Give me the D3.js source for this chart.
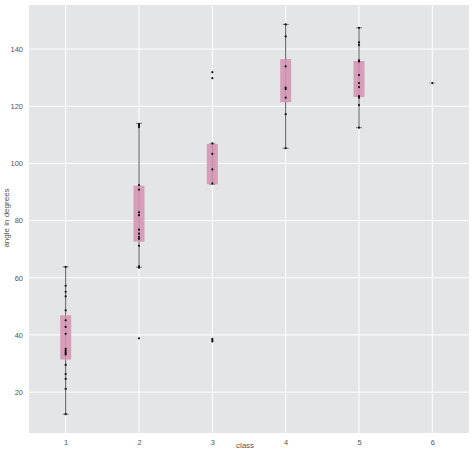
<!DOCTYPE html>
<html><head><meta charset="utf-8">
<script src="https://cdn.jsdelivr.net/npm/d3@7.9.0/dist/d3.min.js"></script>
<style>body{margin:0;background:#fff}text{font-family:"Liberation Sans",Arial,sans-serif}</style>
</head><body><svg width="474" height="454"></svg>
<script>
const classes = [1, 2, 3, 4, 5, 6];
const points = [
  [63.8, 57.2, 55.1, 53.5, 48.6, 45.1, 42.8, 40.4, 35.1, 34.4, 33.7, 33.2, 29.5, 26.3, 24.6, 21.1, 12.3],
  [113.7, 113.2, 112.7, 92.4, 90.8, 82.9, 81.9, 76.8, 75.4, 74.3, 73.6, 71.2, 64.0, 63.5, 38.8],
  [131.9, 129.8, 107.0, 103.3, 97.9, 93.0, 38.6, 38.1, 37.7],
  [148.6, 144.4, 133.9, 126.5, 126.0, 123.0, 117.2, 105.3],
  [147.4, 142.3, 141.4, 136.0, 135.6, 130.9, 128.1, 126.7, 123.5, 123.0, 120.4, 112.5],
  [128.1]
];
const q1 = [31.4, 72.6, 92.7, 121.4, 123.2, 128.1];
const q3 = [46.9, 92.2, 106.8, 136.5, 135.8, 128.1];
const whiskLo = [12.3, 63.7, 92.7, 105.3, 112.5, 128.1];
const whiskHi = [63.8, 114.0, 106.8, 148.6, 147.4, 128.1];
const yTicks = [20, 40, 60, 80, 100, 120, 140];

const svg = d3.select('svg');
const L = 29, R = 469, T = 5, B = 433;
const x = d3.scaleLinear().domain([0.5, 6.5]).range([L, R]);
const y = d3.scaleLinear().domain([5.7, 155.4]).range([B, T]);

svg.append('rect').attr('x', L).attr('y', T).attr('width', R - L).attr('height', B - T).attr('fill', '#e3e5e6');
svg.selectAll('.gy').data(yTicks).join('line')
  .attr('x1', L).attr('x2', R).attr('y1', d => y(d)).attr('y2', d => y(d))
  .attr('stroke', '#fff').attr('stroke-width', 1);
svg.selectAll('.gx').data(classes).join('line')
  .attr('y1', T).attr('y2', B).attr('x1', d => x(d)).attr('x2', d => x(d))
  .attr('stroke', '#fff').attr('stroke-width', 1);

const yAxis = svg.append('g').attr('transform', `translate(${L},0)`)
  .call(d3.axisLeft(y).tickValues(yTicks).tickSize(0).tickPadding(6));
const xAxis = svg.append('g').attr('transform', `translate(0,${B})`)
  .call(d3.axisBottom(x).tickValues(classes).tickFormat(d3.format('d')).tickSize(0).tickPadding(7));
[xAxis, yAxis].forEach(a => {
  a.select('.domain').remove();
  a.selectAll('text').attr('fill', '#555').attr('font-size', 7.5);
});

classes.forEach((c, i) => {
  const cx = x(c);
  const flat = whiskHi[i] === whiskLo[i];
  const col = flat ? '#aaa' : '#333';
  svg.append('line').attr('x1', cx).attr('x2', cx).attr('y1', y(whiskLo[i])).attr('y2', y(whiskHi[i]))
    .attr('stroke', col).attr('stroke-width', 0.8);
  [whiskLo[i], whiskHi[i]].forEach(v => svg.append('line')
    .attr('x1', cx - 3).attr('x2', cx + 3).attr('y1', y(v)).attr('y2', y(v))
    .attr('stroke', col).attr('stroke-width', 0.6));
  if (q3[i] > q1[i]) {
    svg.append('rect').attr('x', cx - 5.5).attr('width', 11)
      .attr('y', y(q3[i])).attr('height', y(q1[i]) - y(q3[i]))
      .attr('fill', '#d592b1').attr('opacity', 0.85);
  }
  svg.selectAll(null).data(points[i]).join('circle')
    .attr('cx', cx).attr('cy', d => y(d)).attr('r', 1.1).attr('fill', '#111');
});

svg.append('text').attr('x', 245).attr('y', 448).attr('text-anchor', 'middle')
  .attr('font-size', 8).attr('fill', '#555').text('class');
svg.append('text').attr('transform', 'translate(9,218) rotate(-90)')
  .attr('text-anchor', 'middle').attr('font-size', 8).attr('fill', '#555').text('angle in degrees');
</script></body></html>
